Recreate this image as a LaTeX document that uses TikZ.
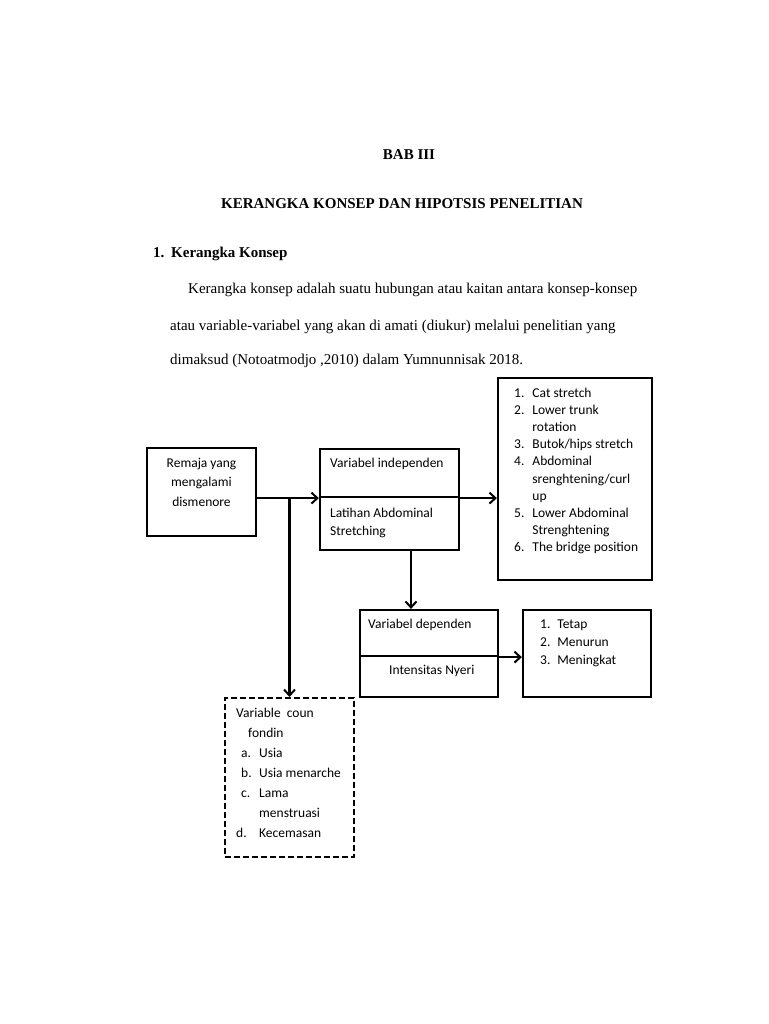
\documentclass[tikz,border=0pt]{standalone}
\usepackage{fontspec}
\setmainfont{Liberation Serif}
\newfontfamily\calibri{Carlito}
\usetikzlibrary{arrows.meta}

\begin{document}
\begin{tikzpicture}[
			x=1pt, y=-1pt,
			page/.style={font=\fontsize{15}{18}\selectfont, inner sep=0},
			head/.style={font=\fontsize{15}{18}\selectfont\bfseries, inner sep=0},
			box/.style={draw, line width=2.2pt, inner sep=0},
			dashbox/.style={box, line width=2pt, dash pattern=on 6pt off 3pt},
			txt/.style={font=\calibri\fontsize{13.5}{17.2}\selectfont, inner sep=0, anchor=base west},
			arr/.style={line width=2.2pt, -{Straight Barb[length=6pt, width=11pt, line width=2pt]}}
			]
			
			\useasboundingbox (0,0) rectangle (768,1024);
			
			% page text
			\node[head, anchor=base] (bab) at (409,160) {BAB III};
			\node[head, anchor=base] (judul) at (402,209) {KERANGKA KONSEP DAN HIPOTSIS PENELITIAN};
			\node[head, anchor=base west] (nomor) at (153,258) {1.};
			\node[head, anchor=base west] (sub) at (171,258) {Kerangka Konsep};
			\node[page, anchor=base west] (baris1) at (188,293) {Kerangka konsep adalah suatu hubungan atau kaitan antara konsep-konsep};
			\node[page, anchor=base west] (baris2) at (170,330) {atau variable-variabel yang akan di amati (diukur) melalui penelitian yang};
			\node[page, anchor=base west] (baris3) at (170,364) {dimaksud (Notoatmodjo ,2010) dalam Yumnunnisak 2018.};
			
			% boxes
			\node[box, minimum width=109, minimum height=88] (remaja) at (201.5,492) {};
			\node[box, minimum width=139, minimum height=48] (indepA) at (389.5,473) {};
			\node[box, minimum width=139, minimum height=53] (indepB) at (389.5,523.5) {};
			\node[box, minimum width=154, minimum height=202] (latihan) at (575,479) {};
			\node[box, minimum width=138, minimum height=46] (depA) at (429,633) {};
			\node[box, minimum width=138, minimum height=41] (depB) at (429,676.5) {};
			\node[box, minimum width=128, minimum height=87] (hasil) at (587,653.5) {};
			\node[dashbox, minimum width=129, minimum height=159] (conf) at (289.5,777.5) {};
			
			% texts in boxes
			\node[txt, anchor=base] (remajaT) at (201.5,467) {\fontsize{13.5}{19.5}\selectfont
				\begin{tabular}[t]{@{}c@{}}Remaja yang\\ mengalami\\ dismenore\end{tabular}};
			\node[txt] (indepAT) at (330,467) {Variabel independen};
			\node[txt] (indepBT) at (330,517) {\fontsize{13.5}{18}\selectfont
				\begin{tabular}[t]{@{}l@{}}Latihan Abdominal\\ Stretching\end{tabular}};
			\node[txt] (latihanT) at (514,397) {\begin{tabular}[t]{@{}r@{\hspace{8pt}}l@{}}
				1. & Cat stretch\\
				2. & Lower trunk\\
				   & rotation\\
				3. & Butok/hips stretch\\
				4. & Abdominal\\
				   & srenghtening/curl\\
				   & up\\
				5. & Lower Abdominal\\
				   & Strenghtening\\
				6. & The bridge position
				\end{tabular}};
			\node[txt] (depAT) at (368,628) {Variabel dependen};
			\node[txt] (depBT) at (389,674) {Intensitas Nyeri};
			\node[txt] (hasilT) at (540,628) {\fontsize{13.5}{18}\selectfont
				\begin{tabular}[t]{@{}r@{\hspace{7pt}}l@{}}
				1. & Tetap\\
				2. & Menurun\\
				3. & Meningkat
				\end{tabular}};
			\node[txt] (confT) at (236,717) {\fontsize{13.5}{20}\selectfont
				\begin{tabular}[t]{@{}p{23pt}@{}l@{}}
				\multicolumn{2}{@{}l@{}}{Variable\ \ coun}\\
				\multicolumn{2}{@{}l@{}}{\hspace*{12pt}fondin}\\
				\hspace*{5pt}a. & Usia\\
				\hspace*{5pt}b. & Usia menarche\\
				\hspace*{5pt}c. & Lama\\
				 & menstruasi\\
				d. & Kecemasan
				\end{tabular}};
			
			% connectors
			\draw[arr] (indepA.south west -| remaja.east) -- (indepA.south west);
			\draw[arr] (conf.north |- indepA.south west) -- (conf.north);
			\draw[arr] (indepA.south east) -- (indepA.south east -| latihan.west);
			\draw[arr] ([xshift=21.5pt]indepB.south) -- ([xshift=21.5pt]indepB.south |- depA.north);
			\draw[arr] (depA.south east) -- (depA.south east -| hasil.west);
		\end{tikzpicture}
\end{document}
